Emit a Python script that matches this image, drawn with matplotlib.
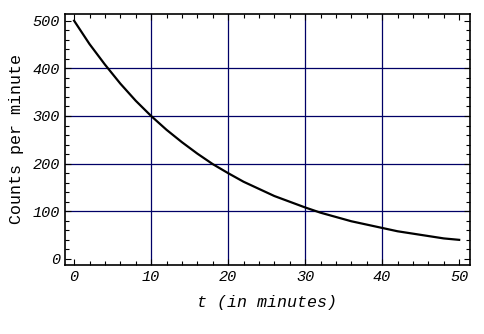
"""Radioactive decay: counts per minute vs time."""
import matplotlib
matplotlib.use("Agg")
import matplotlib.pyplot as plt
from matplotlib.ticker import MultipleLocator

# values (every 2 minutes)
t_minutes = [0, 2, 4, 6, 8, 10, 12, 14, 16, 18, 20, 22, 24, 26, 28, 30,
             32, 34, 36, 38, 40, 42, 44, 46, 48, 50]
counts = [500, 451, 408, 368, 332, 300, 271, 245, 221, 199, 180, 162, 147,
          132, 120, 108, 97, 88, 79, 72, 65, 58, 53, 48, 43, 40]

x_ticks = [0, 10, 20, 30, 40, 50]
y_ticks = [0, 100, 200, 300, 400, 500]
x_grid = [10, 20, 30, 40]
y_grid = [100, 200, 300, 400]

mono = "Liberation Mono"
grid_color = "#000066"

fig = plt.figure(figsize=(4.84, 3.34), dpi=100)
ax = fig.add_axes([0.134, 0.207, 0.837, 0.751])

for gx in x_grid:
    ax.axvline(gx, color=grid_color, lw=0.9, zorder=1)
for gy in y_grid:
    ax.axhline(gy, color=grid_color, lw=0.9, zorder=1)

ax.plot(t_minutes, counts, color="black", lw=1.6, zorder=3)

ax.set_xlim(-1.2, 51.4)
ax.set_ylim(-12.5, 514)
ax.set_xticks(x_ticks)
ax.set_yticks(y_ticks)
ax.xaxis.set_minor_locator(MultipleLocator(2))
ax.yaxis.set_minor_locator(MultipleLocator(20))
ax.tick_params(which="both", direction="in", top=True, right=True,
               width=0.8, color="black")
ax.tick_params(which="major", length=4.5)
ax.tick_params(which="minor", length=3)

for lab in ax.get_xticklabels() + ax.get_yticklabels():
    lab.set_fontfamily(mono)
    lab.set_fontstyle("italic")
    lab.set_fontsize(11)

ax.set_xlabel("t (in minutes)", fontfamily=mono, fontstyle="italic",
              fontsize=12, labelpad=8)
ax.set_ylabel("Counts per minute", fontfamily=mono, fontsize=12,
              labelpad=6)

for sp in ax.spines.values():
    sp.set_linewidth(1.2)

fig.savefig("out.png", dpi=100)
